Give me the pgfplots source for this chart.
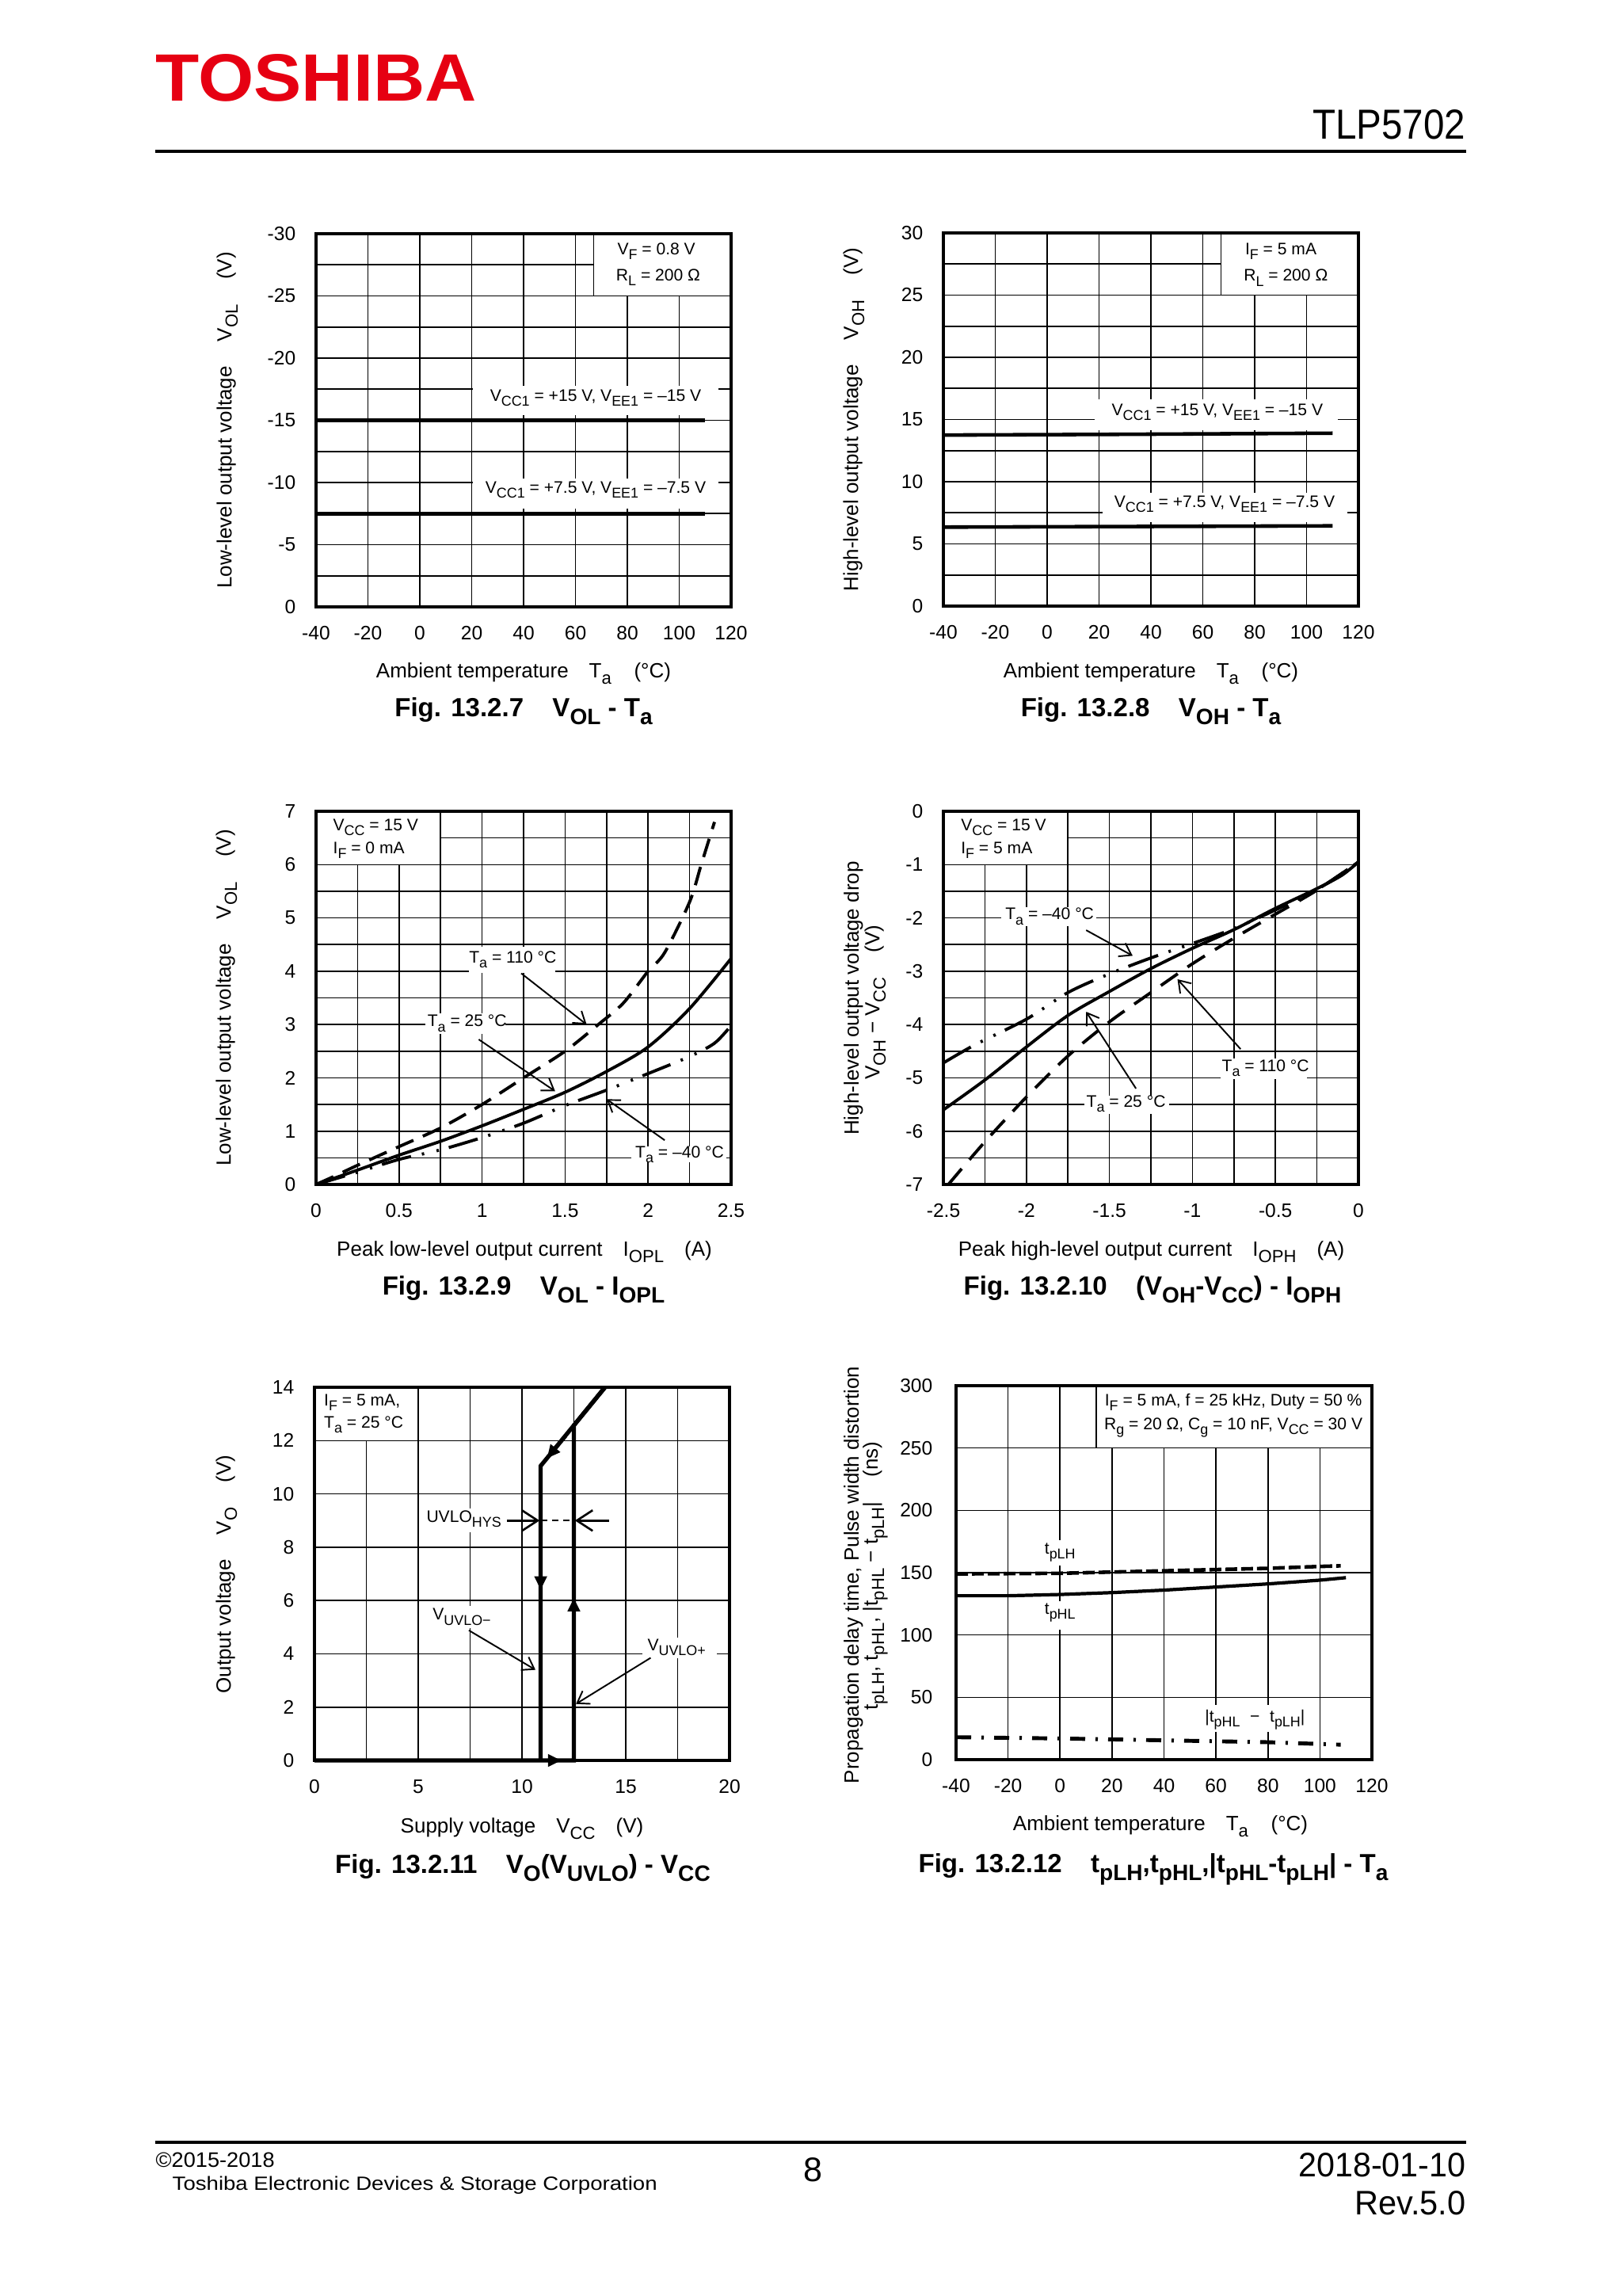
\documentclass[border=0pt]{standalone}
\usepackage{fontspec}
\setmainfont{Liberation Sans}
\usepackage{graphicx}
\usepackage{pgfplots}
\pgfplotsset{compat=1.18}
\usetikzlibrary{arrows.meta}

\newcommand{\sub}[1]{\raisebox{-0.3em}{\scalebox{0.85}{#1}}}
\newcommand{\ann}{\fontsize{6}{7}\selectfont}
\newcommand{\lab}{\fontsize{7.4}{9}\selectfont}
\newcommand{\ttl}{\fontsize{9.4}{11}\selectfont\bfseries}
\definecolor{tred}{RGB}{230,0,18}

\pgfplotsset{
  dsheet/.style={
    scale only axis, width=52.4mm, height=47.1mm, anchor=south west,
    grid=both,
    major grid style={black, line width=0.45pt},
    minor grid style={black, line width=0.45pt},
    major tick length=0pt, minor tick length=0pt,
    axis line style={line width=1.1pt},
    tick label style={font=\fontsize{7}{8}\selectfont},
    /pgf/number format/assume math mode=true,
    /pgf/number format/fixed,
    xticklabel style={anchor=base, yshift=-4.1mm, inner sep=0pt},
    yticklabel style={anchor=east, xshift=-2.5mm, inner sep=0pt},
    scaled ticks=false,
  },
}
\tikzset{
  frm/.style={line width=1.1pt},
  bx/.style={line width=0.45pt},
  arr/.style={line width=0.55pt, -{Straight Barb[length=1.4mm,width=1.9mm]}},
  lbl/.style={font=\ann, inner sep=0pt},
  tri/.style={line width=1.4pt, -{Triangle[length=1.7mm,width=1.5mm]}},
  chev/.style={line width=0.75pt, -{Straight Barb[length=2mm,width=2.6mm]}},
}

\begin{document}
\begin{tikzpicture}
\fill[white] (0,0) rectangle (204.8mm,-289.8mm);
\path[use as bounding box] (0,0) rectangle (204.8mm,-289.8mm);

% ---------- header ----------
\node[anchor=south west, inner sep=0, text=tred] at (19.6mm,-12.9mm) {\resizebox{40.5mm}{5.9mm}{\bfseries TOSHIBA}};
\node[anchor=base east, inner sep=0] at (185.1mm,-17.6mm) {\resizebox{19.3mm}{3.7mm}{TLP5702}};
\draw[line width=0.45mm] (19.6mm,-19.1mm) -- (185.1mm,-19.1mm);

% ---------- footer ----------
\draw[line width=0.4mm] (19.6mm,-270.4mm) -- (185.1mm,-270.4mm);
\node[anchor=base west, inner sep=0] at (19.6mm,-273.5mm) {\resizebox{15mm}{1.85mm}{©2015-2018}};
\node[anchor=base west, inner sep=0] at (21.7mm,-276.4mm) {\resizebox{61.2mm}{1.75mm}{Toshiba Electronic Devices \& Storage Corporation}};
\node[anchor=base, inner sep=0] at (102.6mm,-275.3mm) {\resizebox{!}{3.0mm}{8}};
\node[anchor=base east, inner sep=0] at (185.1mm,-274.7mm) {\resizebox{21.1mm}{3.0mm}{2018-01-10}};
\node[anchor=base east, inner sep=0] at (185.1mm,-279.5mm) {\resizebox{14mm}{3.0mm}{Rev.5.0}};

% ---------- Fig 13.2.7 ----------
\begin{axis}[dsheet, name=a1, at={(39.9mm,-76.6mm)},
  xmin=-40, xmax=120, ymin=-30, ymax=0, y dir=reverse,
  xtick={-40,-20,...,120}, ytick={-30,-25,...,0},
  minor ytick={-27.5,-22.5,...,-2.5}]
\fill[white] (axis cs:67,-25) rectangle (axis cs:120,-30);
\draw[bx] (axis cs:67,-30) -- (axis cs:67,-25) -- (axis cs:120,-25);
\node[lbl] at (axis cs:91.2,-28.6) {V\sub{F} = 0.8 V};
\node[lbl] at (axis cs:91.9,-26.5) {R\sub{L} = 200 Ω};
\fill[white] (axis cs:20.5,-17.8) rectangle (axis cs:115,-15.4);
\node[lbl] at (axis cs:67.8,-16.8) {V\sub{CC1} = +15 V, V\sub{EE1} = –15 V};
\fill[white] (axis cs:20.5,-10.3) rectangle (axis cs:115,-7.9);
\node[lbl] at (axis cs:67.8,-9.4) {V\sub{CC1} = +7.5 V, V\sub{EE1} = –7.5 V};
\addplot[line width=1.3pt] coordinates {(-40,-15) (110,-15)};
\addplot[line width=1.3pt] coordinates {(-40,-7.5) (110,-7.5)};
\end{axis}
\draw[frm] (a1.south west) rectangle (a1.north east);
\node[rotate=90, font=\lab] at (28.7mm,-53.05mm) {Low-level output voltage\hspace{1.2em}V\sub{OL}\hspace{1.2em}(V)};
\node[font=\lab] at (66.1mm,-85.0mm) {Ambient temperature\hspace{1em}T\sub{a}\hspace{1.1em}(°C)};
\node[font=\ttl] at (66.1mm,-89.8mm) {Fig. 13.2.7\hspace{1.1em}V\sub{OL} - T\sub{a}};

% ---------- Fig 13.2.8 ----------
\begin{axis}[dsheet, name=a2, at={(119.1mm,-76.5mm)},
  xmin=-40, xmax=120, ymin=0, ymax=30,
  xtick={-40,-20,...,120}, ytick={0,5,...,30},
  minor ytick={2.5,7.5,...,27.5}]
\fill[white] (axis cs:67,25) rectangle (axis cs:120,30);
\draw[bx] (axis cs:67,30) -- (axis cs:67,25) -- (axis cs:120,25);
\node[lbl] at (axis cs:90.1,28.5) {I\sub{F} = 5 mA};
\node[lbl] at (axis cs:92,26.4) {R\sub{L} = 200 Ω};
\fill[white] (axis cs:18.3,14.15) rectangle (axis cs:112,16.6);
\node[lbl] at (axis cs:65.6,15.6) {V\sub{CC1} = +15 V, V\sub{EE1} = –15 V};
\fill[white] (axis cs:21.4,6.75) rectangle (axis cs:115.7,9.1);
\node[lbl] at (axis cs:68.4,8.2) {V\sub{CC1} = +7.5 V, V\sub{EE1} = –7.5 V};
\addplot[line width=1.3pt] coordinates {(-40,13.75) (20,13.8) (110,13.9)};
\addplot[line width=1.3pt] coordinates {(-40,6.35) (110,6.45)};
\end{axis}
\draw[frm] (a2.south west) rectangle (a2.north east);
\node[rotate=90, font=\lab] at (107.8mm,-52.95mm) {High-level output voltage\hspace{1.2em}V\sub{OH}\hspace{1.2em}(V)};
\node[font=\lab] at (145.3mm,-85.0mm) {Ambient temperature\hspace{1em}T\sub{a}\hspace{1.1em}(°C)};
\node[font=\ttl] at (145.3mm,-89.8mm) {Fig. 13.2.8\hspace{1.1em}V\sub{OH} - T\sub{a}};

% ---------- Fig 13.2.9 ----------
\begin{axis}[dsheet, name=a3, at={(39.9mm,-149.5mm)},
  xmin=0, xmax=2.5, ymin=0, ymax=7,
  xtick={0,0.5,1,1.5,2,2.5}, ytick={0,1,...,7},
  minor xtick={0.25,0.75,1.25,1.75,2.25}, minor ytick={0.5,1.5,...,6.5}]
\fill[white] (axis cs:0,6) rectangle (axis cs:0.75,7);
\draw[bx] (axis cs:0.75,7) -- (axis cs:0.75,6) -- (axis cs:0,6);
\node[lbl, anchor=west] at (axis cs:0.1,6.7) {V\sub{CC} = 15 V};
\node[lbl, anchor=west] at (axis cs:0.1,6.27) {I\sub{F} = 0 mA};
\fill[white] (axis cs:0.92,3.97) rectangle (axis cs:1.44,4.46);
\node[lbl] at (axis cs:1.185,4.22) {T\sub{a} = 110 °C};
\fill[white] (axis cs:0.66,2.83) rectangle (axis cs:1.14,3.21);
\node[lbl] at (axis cs:0.91,3.02) {T\sub{a} = 25 °C};
\fill[white] (axis cs:1.9,0.42) rectangle (axis cs:2.47,0.71);
\node[lbl] at (axis cs:2.19,0.56) {T\sub{a} = –40 °C};
\draw[arr] (axis cs:1.236,3.96) -- (axis cs:1.63,3.0);
\draw[arr] (axis cs:0.98,2.72) -- (axis cs:1.44,1.75);
\draw[arr] (axis cs:2.1,0.83) -- (axis cs:1.75,1.6);
\addplot[line width=1.1pt, smooth, dash pattern=on 2.4mm off 1.3mm] coordinates {
 (0,0) (0.1,0.14) (0.25,0.36) (0.5,0.71) (0.75,1.06) (1.0,1.5) (1.25,2.0) (1.5,2.5)
 (1.7,3.0) (1.85,3.4) (2.0,4.0) (2.1,4.35) (2.25,5.3) (2.32,6.0) (2.4,6.8)};
\addplot[line width=1.1pt, smooth] coordinates {
 (0,0) (0.25,0.27) (0.5,0.55) (0.75,0.81) (1.0,1.1) (1.25,1.41) (1.5,1.73)
 (1.75,2.12) (2.0,2.58) (2.25,3.3) (2.5,4.24)};
\addplot[line width=1.1pt, smooth, dash pattern=on 3.8mm off 1.4mm on 0.3mm off 1.6mm on 0.3mm off 1.3mm] coordinates {
 (0,0) (0.25,0.23) (0.5,0.47) (0.75,0.65) (1.0,0.88) (1.25,1.15) (1.5,1.48)
 (1.75,1.77) (2.0,2.08) (2.25,2.4) (2.4,2.65) (2.5,2.98)};
\end{axis}
\draw[frm] (a3.south west) rectangle (a3.north east);
\node[rotate=90, font=\lab] at (28.6mm,-125.95mm) {Low-level output voltage\hspace{1.2em}V\sub{OL}\hspace{1.2em}(V)};
\node[font=\lab] at (66.2mm,-158.0mm) {Peak low-level output current\hspace{1em}I\sub{OPL}\hspace{1em}(A)};
\node[font=\ttl] at (66.1mm,-162.8mm) {Fig. 13.2.9\hspace{1.1em}V\sub{OL} - I\sub{OPL}};

% ---------- Fig 13.2.10 ----------
\begin{axis}[dsheet, name=a4, at={(119.1mm,-149.5mm)},
  xmin=-2.5, xmax=0, ymin=-7, ymax=0,
  xtick={-2.5,-2,-1.5,-1,-0.5,0}, ytick={-7,-6,...,0},
  minor xtick={-2.25,-1.75,-1.25,-0.75,-0.25}, minor ytick={-6.5,-5.5,...,-0.5}]
\fill[white] (axis cs:-2.5,-1) rectangle (axis cs:-1.75,0);
\draw[bx] (axis cs:-1.75,0) -- (axis cs:-1.75,-1) -- (axis cs:-2.5,-1);
\node[lbl, anchor=west] at (axis cs:-2.397,-0.3) {V\sub{CC} = 15 V};
\node[lbl, anchor=west] at (axis cs:-2.397,-0.73) {I\sub{F} = 5 mA};
\fill[white] (axis cs:-2.15,-2.15) rectangle (axis cs:-1.58,-1.8);
\node[lbl] at (axis cs:-1.86,-1.97) {T\sub{a} = –40 °C};
\fill[white] (axis cs:-0.83,-5.03) rectangle (axis cs:-0.31,-4.63);
\node[lbl] at (axis cs:-0.56,-4.82) {T\sub{a} = 110 °C};
\fill[white] (axis cs:-1.65,-5.68) rectangle (axis cs:-1.14,-5.33);
\node[lbl] at (axis cs:-1.4,-5.49) {T\sub{a} = 25 °C};
\draw[arr] (axis cs:-1.64,-2.23) -- (axis cs:-1.36,-2.71);
\draw[arr] (axis cs:-0.71,-4.46) -- (axis cs:-1.09,-3.15);
\draw[arr] (axis cs:-1.34,-5.2) -- (axis cs:-1.64,-3.76);
\addplot[line width=1.1pt, smooth] coordinates {
 (-2.5,-5.6) (-2.25,-5.04) (-2,-4.42) (-1.75,-3.83) (-1.5,-3.38) (-1.25,-2.95)
 (-1,-2.57) (-0.75,-2.22) (-0.5,-1.82) (-0.25,-1.45) (-0.1,-1.2) (0,-0.95)};
\addplot[line width=1.1pt, smooth, dash pattern=on 2.6mm off 1.5mm] coordinates {
 (-2.47,-7.0) (-2.25,-6.2) (-2,-5.36) (-1.75,-4.59) (-1.5,-3.95) (-1.25,-3.4)
 (-1,-2.86) (-0.75,-2.38) (-0.5,-1.93) (-0.25,-1.48) (0,-0.95)};
\addplot[line width=1.1pt, smooth, dash pattern=on 4mm off 1.4mm on 0.3mm off 1.5mm on 0.3mm off 1.3mm] coordinates {
 (-2.5,-4.72) (-2.31,-4.38) (-2.0,-3.9) (-1.75,-3.4) (-1.5,-3.05) (-1.25,-2.75)
 (-1.0,-2.48) (-0.75,-2.2) (-0.5,-1.85) (-0.25,-1.47) (0,-0.95)};
\end{axis}
\draw[frm] (a4.south west) rectangle (a4.north east);
\node[rotate=90, font=\lab] at (107.75mm,-126.0mm) {High-level output voltage drop};
\node[rotate=90, font=\lab] at (110.5mm,-126.5mm) {V\sub{OH} − V\sub{CC}\hspace{1.2em}(V)};
\node[font=\lab] at (145.35mm,-158.0mm) {Peak high-level output current\hspace{1em}I\sub{OPH}\hspace{1em}(A)};
\node[font=\ttl] at (145.5mm,-162.8mm) {Fig. 13.2.10\hspace{1.1em}(V\sub{OH}-V\sub{CC}) - I\sub{OPH}};

% ---------- Fig 13.2.11 ----------
\begin{axis}[dsheet, name=a5, at={(39.7mm,-222.2mm)}, clip=false,
  xmin=0, xmax=20, ymin=0, ymax=14,
  xtick={0,5,...,20}, ytick={0,2,...,14},
  minor xtick={2.5,7.5,12.5,17.5}]
\fill[white] (axis cs:0,12) rectangle (axis cs:5,14);
\draw[bx] (axis cs:5,14) -- (axis cs:5,12) -- (axis cs:0,12);
\node[lbl, anchor=west] at (axis cs:0.44,13.42) {I\sub{F} = 5 mA,};
\node[lbl, anchor=west] at (axis cs:0.44,12.59) {T\sub{a} = 25 °C};
\fill[white] (axis cs:5.3,8.55) rectangle (axis cs:9.1,9.45);
\node[lbl] at (axis cs:7.2,9.05) {UVLO\sub{HYS}};
\fill[white] (axis cs:5.5,4.95) rectangle (axis cs:8.7,5.8);
\node[lbl] at (axis cs:7.1,5.39) {V\sub{UVLO−}};
\fill[white] (axis cs:15.8,3.85) rectangle (axis cs:19.4,4.6);
\node[lbl] at (axis cs:17.45,4.24) {V\sub{UVLO+}};
\draw[chev] (axis cs:9.28,9) -- (axis cs:10.85,9);
\draw[chev] (axis cs:14.19,9) -- (axis cs:12.55,9);
\draw[line width=0.45pt, dash pattern=on 0.8mm off 0.6mm] (axis cs:10.9,9) -- (axis cs:12.5,9);
\draw[arr] (axis cs:7.44,4.88) -- (axis cs:10.65,3.4);
\draw[arr] (axis cs:16.2,3.85) -- (axis cs:12.6,2.12);
\addplot[line width=1.5pt] coordinates {(0,0) (12.5,0) (12.5,12.57) (14,14)};
\addplot[line width=1.5pt] coordinates {(10.9,0) (10.9,11.05) (14,14)};
\draw[tri] (axis cs:11.0,0) -- (axis cs:11.9,0);
\draw[tri] (axis cs:10.9,7.6) -- (axis cs:10.9,6.4);
\draw[tri] (axis cs:12.5,4.9) -- (axis cs:12.5,6.1);
\draw[tri] (axis cs:12.1,12.18) -- (axis cs:11.2,11.33);
\end{axis}
\draw[frm] (a5.south west) rectangle (a5.north east);
\node[rotate=90, font=\lab] at (28.6mm,-198.7mm) {Output voltage\hspace{1.2em}V\sub{O}\hspace{1.2em}(V)};
\node[font=\lab] at (65.9mm,-230.8mm) {Supply voltage\hspace{1em}V\sub{CC}\hspace{1em}(V)};
\node[font=\ttl] at (66.0mm,-235.8mm) {Fig. 13.2.11\hspace{1.1em}V\sub{O}(V\sub{UVLO}) - V\sub{CC}};

% ---------- Fig 13.2.12 ----------
\begin{axis}[dsheet, name=a6, at={(120.7mm,-222.1mm)}, width=52.5mm, height=47.2mm,
  xmin=-40, xmax=120, ymin=0, ymax=300,
  xtick={-40,-20,...,120}, ytick={0,50,...,300},
  yticklabel style={xshift=-0.4mm}]
\fill[white] (axis cs:14,250) rectangle (axis cs:120,300);
\draw[bx] (axis cs:14,300) -- (axis cs:14,250) -- (axis cs:120,250);
\node[lbl] at (axis cs:66.7,286.8) {I\sub{F} = 5 mA, f = 25 kHz, Duty = 50 \%};
\node[lbl] at (axis cs:66.7,266.4) {R\sub{g} = 20 Ω, C\sub{g} = 10 nF, V\sub{CC} = 30 V};
\fill[white] (axis cs:-7,156) rectangle (axis cs:7,176);
\node[lbl] at (axis cs:0,166) {t\sub{pLH}};
\fill[white] (axis cs:-7,104) rectangle (axis cs:7,127);
\node[lbl] at (axis cs:0,118) {t\sub{pHL}};
\fill[white] (axis cs:53,22) rectangle (axis cs:97,44);
\node[lbl] at (axis cs:75,32) {|t\sub{pHL}\hspace{0.6em}−\hspace{0.6em}t\sub{pLH}|};
\addplot[line width=1.3pt, dash pattern=on 1.5mm off 0.5mm] coordinates {
 (-40,149) (0,149.5) (20,150.5) (40,151.5) (60,152.5) (80,153.5) (100,155) (108,155.5)};
\addplot[line width=1.2pt] coordinates {
 (-40,131.5) (-20,131.5) (0,132.5) (20,134) (40,136) (60,138.5) (80,141) (100,144) (110,146)};
\addplot[line width=1.4pt, dash pattern=on 1.9mm off 1.3mm on 0.3mm off 1.3mm] coordinates {
 (-40,18) (0,17) (40,15.5) (80,14) (108,12)};
\end{axis}
\draw[frm] (a6.south west) rectangle (a6.north east);
\node[rotate=90, font=\lab] at (107.75mm,-198.8mm) {Propagation delay time, Pulse width distortion};
\node[rotate=90, font=\lab] at (110.5mm,-198.9mm) {t\sub{pLH}, t\sub{pHL}, |t\sub{pHL} − t\sub{pLH}|\hspace{1.2em}(ns)};
\node[font=\lab] at (146.5mm,-230.5mm) {Ambient temperature\hspace{1em}T\sub{a}\hspace{1.1em}(°C)};
\node[font=\ttl] at (145.6mm,-235.9mm) {Fig. 13.2.12\hspace{1.1em}t\sub{pLH},t\sub{pHL},|t\sub{pHL}-t\sub{pLH}| - T\sub{a}};

\end{tikzpicture}
\end{document}
